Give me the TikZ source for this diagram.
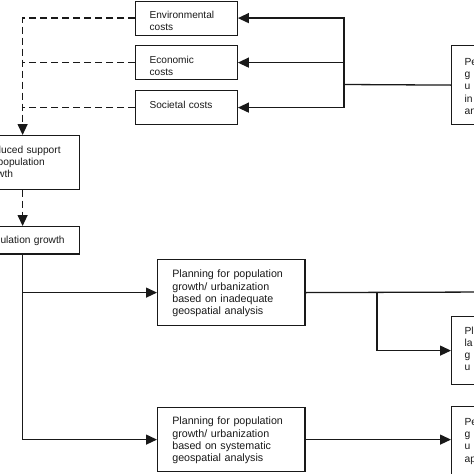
\documentclass[tikz,border=0pt]{standalone}
\usepackage{fontspec}
\setmainfont{Liberation Sans}
\usetikzlibrary{arrows.meta}
\def\picsize{474}

\begin{document}
\begin{tikzpicture}[x=1pt,y=-1pt,->,>={Triangle[length=11pt,width=10pt]},line width=1.3pt,draw=black!90]
		\tikzstyle{box}=[draw,rectangle,line width=1.2pt,anchor=north west,align=left,inner ysep=0pt,text=black!90,font=\fontsize{10.3}{12.3}\selectfont]
		\tikzstyle{cost box}=[box,inner xsep=14pt,text width=73.7pt,font=\fontsize{10.1}{12.3}\selectfont]
		\tikzstyle{left box}=[box,inner xsep=16.5pt,text width=80.4pt,font=\fontsize{10.2}{12.3}\selectfont]
		\tikzstyle{plan box}=[box,inner xsep=14.7pt,text width=118pt,font=\fontsize{10.7}{12.3}\selectfont]
		\tikzstyle{edge box}=[box,inner xsep=13pt,text width=100pt]
		\tikzstyle{dashed link}=[dash pattern=on 7pt off 4pt]
		
		\useasboundingbox (0,0) rectangle (\picsize,\picsize);
		\clip (0,0) rectangle (\picsize,\picsize);
		
		% Draw the cost nodes
		\node[cost box,text height=17.4pt,text depth=16.6pt] (env) at (135,0.5) {Environmental\\costs};
		\node[cost box,text height=17.4pt,text depth=16.6pt] (eco) at (135,45) {Economic\\costs};
		\node[cost box,text height=17.4pt,text depth=16.6pt] (soc) at (135,90) {Societal costs};
		
		% Draw the left column nodes
		\node[left box,text height=17.4pt,text depth=36.1pt] (reduced) at (-34.7,135) {Reduced support\\for population\\growth};
		\node[left box,text height=17pt,text depth=10.3pt] (popgrowth) at (-34.7,226) {Population~growth};
		
		% Draw the planning nodes
		\node[plan box,text height=18.3pt,text depth=47.7pt] (plan1) at (157,259) {Planning for population\\growth/ urbanization\\based on inadequate\\geospatial analysis};
		\node[plan box,text height=17.3pt,text depth=46.7pt] (plan2) at (157,407) {Planning for population\\growth/ urbanization\\based on systematic\\geospatial analysis};
		
		% Draw the right column nodes
		\node[edge box,text height=19.5pt,text depth=59.5pt] (perc1) at (451,45) {Pe\\g\\u\\in\\an};
		\node[edge box,text height=17.4pt,text depth=50.6pt] (plan3) at (451,316) {Pl\\la\\g\\u};
		\node[edge box,text height=18.5pt,text depth=61.5pt] (perc2) at (451,406) {Pe\\g\\u\\ap};
		
		% Connect the right node with every cost node
		\coordinate (split) at (344,84.5);
		\draw[-] (perc1.west) -- (split);
		\foreach \c in {env,eco,soc}
		\draw (split) |- (\c.east);
		
		% Connect every cost node with the reduced support node
		\draw[dashed link] (env.west) -| (reduced.north);
		\draw[dashed link,-] (eco.west) -- (eco.west -| reduced.north);
		\draw[dashed link,-] (soc.west) -- (soc.west -| reduced.north);
		\draw[dashed link] (reduced) -- (popgrowth);
		
		% Connect the population growth node with the planning nodes
		\draw (popgrowth.south) |- (plan1.west);
		\draw (popgrowth.south) |- (plan2.west);
		
		% Connect the planning nodes with the right column
		\coordinate (branch) at (377,292);
		\coordinate (offright) at (490,292);
		\draw[-] (plan1.east) -- (offright);
		\draw (branch) |- (plan3.west);
		\draw (plan2.east) -- (plan2.east -| perc2.west);
	\end{tikzpicture}
\end{document}
